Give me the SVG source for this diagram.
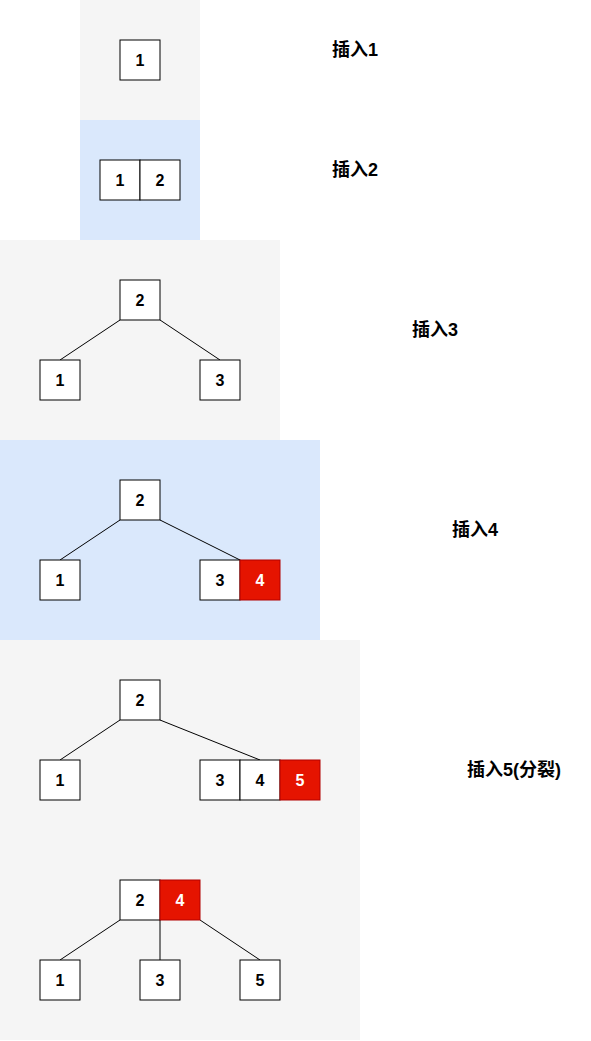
<svg xmlns="http://www.w3.org/2000/svg" width="591" height="1041" viewBox="0 0 591 1041">
<style>
.bgg{fill:#f5f5f5;stroke:none}
.bgb{fill:#dae8fc;stroke:none}
.n{fill:#ffffff;stroke:#000000;stroke-width:1}
.r{fill:#e51400;stroke:#b20000;stroke-width:1}
.t{font-family:"Liberation Sans",Arial,sans-serif;font-weight:bold;font-size:16px;fill:#000;text-anchor:middle;dominant-baseline:central}
.tw{font-family:"Liberation Sans",Arial,sans-serif;font-weight:bold;font-size:16px;fill:#fff;text-anchor:middle;dominant-baseline:central}
.lb{font-family:"Liberation Sans","Noto Sans CJK SC",sans-serif;font-weight:bold;font-size:18px;fill:#000;dominant-baseline:central}
.e{stroke:#000;stroke-width:1;fill:none}
</style>
<g id="panels">
<rect class="bgg" x="80" y="0" width="120" height="120"/>
<rect class="bgb" x="80" y="120" width="120" height="120"/>
<rect class="bgg" x="0" y="240" width="280" height="200"/>
<rect class="bgb" x="0" y="440" width="320" height="200"/>
<rect class="bgg" x="0" y="640" width="360" height="400"/>
</g>
<g id="connectors">
<line class="e" x1="120" y1="320" x2="60" y2="360"/>
<line class="e" x1="160" y1="320" x2="220" y2="360"/>
<line class="e" x1="120" y1="520" x2="60" y2="560"/>
<line class="e" x1="160" y1="520" x2="240" y2="560"/>
<line class="e" x1="120" y1="720" x2="60" y2="760"/>
<line class="e" x1="160" y1="720" x2="260" y2="760"/>
<line class="e" x1="120" y1="920" x2="60" y2="960"/>
<line class="e" x1="160" y1="920" x2="160" y2="960"/>
<line class="e" x1="200" y1="920" x2="260" y2="960"/>
</g>
<g id="s1"><rect class="n" x="120" y="40" width="40" height="40"/><text class="t" x="140" y="60">1</text></g>
<g id="s2a"><rect class="n" x="100" y="160" width="40" height="40"/><text class="t" x="120" y="180">1</text></g>
<g id="s2b"><rect class="n" x="140" y="160" width="40" height="40"/><text class="t" x="160" y="180">2</text></g>
<g id="s3root"><rect class="n" x="120" y="280" width="40" height="40"/><text class="t" x="140" y="300">2</text></g>
<g id="s3l"><rect class="n" x="40" y="360" width="40" height="40"/><text class="t" x="60" y="380">1</text></g>
<g id="s3r"><rect class="n" x="200" y="360" width="40" height="40"/><text class="t" x="220" y="380">3</text></g>
<g id="s4root"><rect class="n" x="120" y="480" width="40" height="40"/><text class="t" x="140" y="500">2</text></g>
<g id="s4l"><rect class="n" x="40" y="560" width="40" height="40"/><text class="t" x="60" y="580">1</text></g>
<g id="s4r3"><rect class="n" x="200" y="560" width="40" height="40"/><text class="t" x="220" y="580">3</text></g>
<g id="s4r4"><rect class="r" x="240" y="560" width="40" height="40"/><text class="tw" x="260" y="580">4</text></g>
<g id="s5root"><rect class="n" x="120" y="680" width="40" height="40"/><text class="t" x="140" y="700">2</text></g>
<g id="s5l"><rect class="n" x="40" y="760" width="40" height="40"/><text class="t" x="60" y="780">1</text></g>
<g id="s5r3"><rect class="n" x="200" y="760" width="40" height="40"/><text class="t" x="220" y="780">3</text></g>
<g id="s5r4"><rect class="n" x="240" y="760" width="40" height="40"/><text class="t" x="260" y="780">4</text></g>
<g id="s5r5"><rect class="r" x="280" y="760" width="40" height="40"/><text class="tw" x="300" y="780">5</text></g>
<g id="s6root2"><rect class="n" x="120" y="880" width="40" height="40"/><text class="t" x="140" y="900">2</text></g>
<g id="s6root4"><rect class="r" x="160" y="880" width="40" height="40"/><text class="tw" x="180" y="900">4</text></g>
<g id="s6l"><rect class="n" x="40" y="960" width="40" height="40"/><text class="t" x="60" y="980">1</text></g>
<g id="s6m"><rect class="n" x="140" y="960" width="40" height="40"/><text class="t" x="160" y="980">3</text></g>
<g id="s6r"><rect class="n" x="240" y="960" width="40" height="40"/><text class="t" x="260" y="980">5</text></g>
<g id="labels">
<text class="lb" x="332" y="50">插入1</text>
<text class="lb" x="332" y="170">插入2</text>
<text class="lb" x="412" y="330">插入3</text>
<text class="lb" x="452" y="530">插入4</text>
<text class="lb" x="467" y="770">插入5(分裂)</text>
</g>
</svg>
